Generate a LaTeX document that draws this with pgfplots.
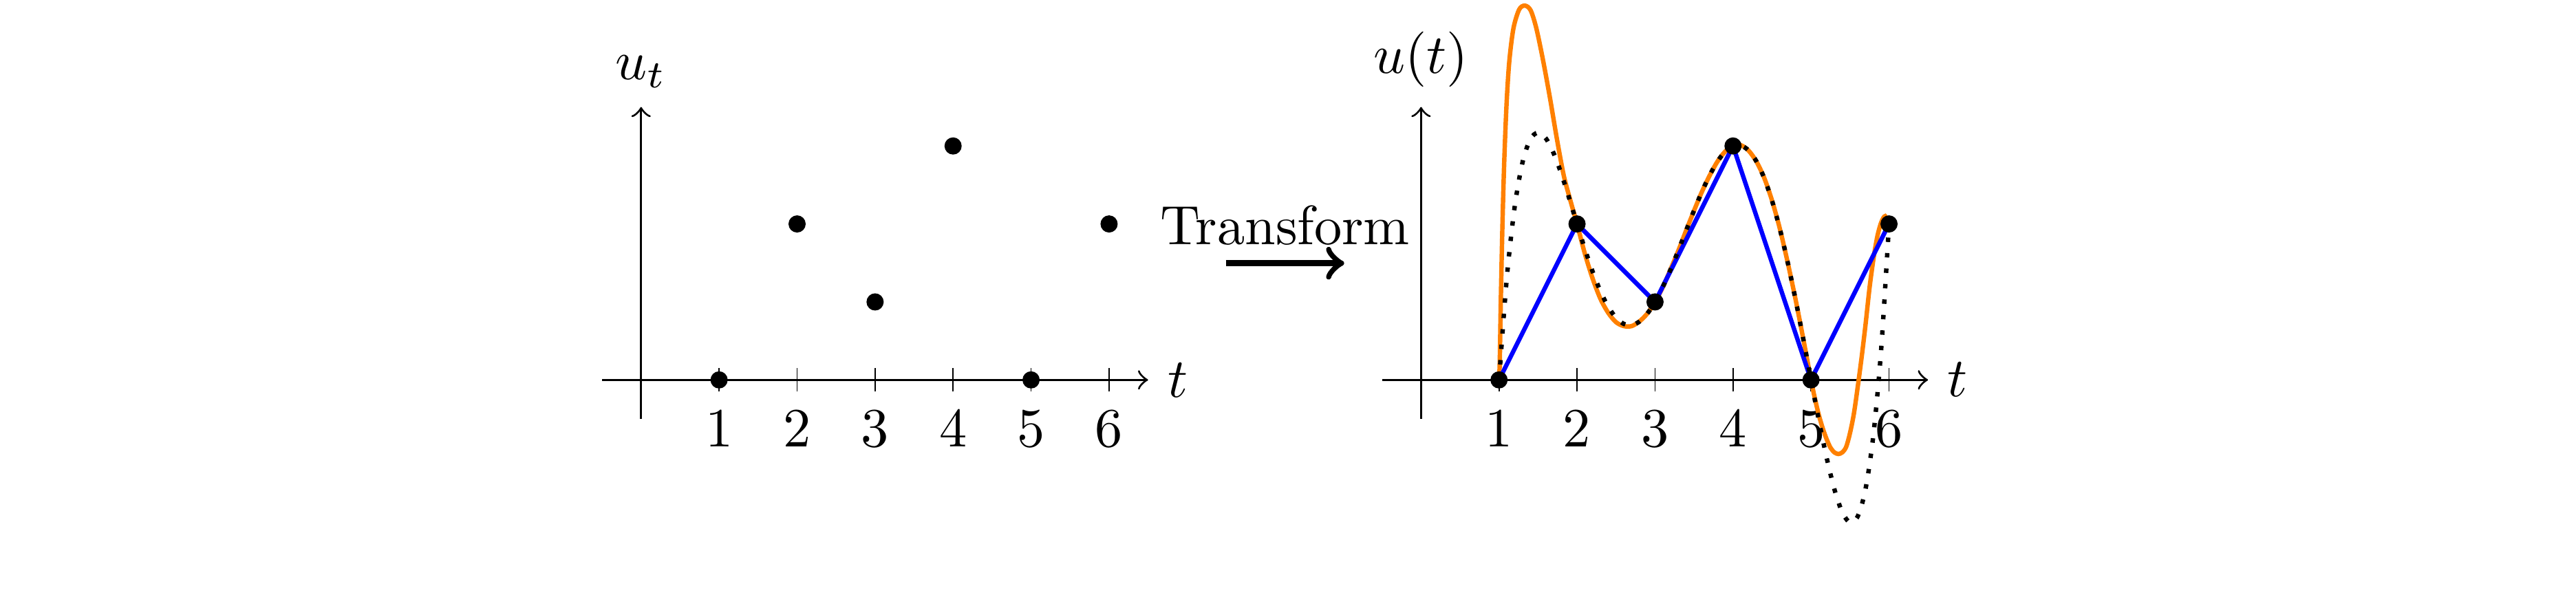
\documentclass[border=0pt]{standalone}
\usepackage{pgfplots}
\pgfplotsset{compat=1.18}
\usepackage{pgfplotstable}

% the six samples u_t
\pgfplotstableread{
t u
1 0
2 2
3 1
4 3
5 0
6 2
}\samples

% smooth reconstruction (orange)
\pgfplotstableread{
t u
1 0
1.009 0.22
1.023 1.03
1.044 2.0
1.067 2.81
1.097 3.55
1.132 4.09
1.185 4.51
1.258 4.75
1.331 4.80
1.405 4.74
1.478 4.51
1.566 4.09
1.654 3.61
1.742 3.09
1.83 2.62
1.915 2.3
2 2
2.1 1.62
2.2 1.30
2.3 1.04
2.4 0.86
2.5 0.74
2.6 0.69
2.7 0.69
2.8 0.75
2.9 0.85
3 1
3.1 1.19
3.2 1.42
3.3 1.66
3.4 1.92
3.5 2.17
3.6 2.41
3.7 2.62
3.8 2.80
3.9 2.93
4 3
4.1 3.01
4.2 2.94
4.3 2.80
4.4 2.59
4.5 2.30
4.6 1.94
4.7 1.51
4.8 1.04
4.9 0.53
5 0
5.05 -0.24
5.1 -0.45
5.15 -0.62
5.2 -0.76
5.25 -0.87
5.3 -0.93
5.35 -0.95
5.4 -0.93
5.45 -0.86
5.5 -0.68
5.55 -0.43
5.6 -0.08
5.65 0.30
5.7 0.72
5.75 1.18
5.8 1.55
5.85 1.84
5.9 2.02
5.95 2.10
6 2
}\orangecurve

% polynomial through the samples (dotted)
\pgfplotstableread{
t u
1 0
1.1 1.311
1.2 2.216
1.3 2.785
1.4 3.085
1.5 3.172
1.6 3.098
1.7 2.907
1.8 2.639
1.9 2.327
2 2
2.1 1.681
2.2 1.388
2.3 1.137
2.4 0.938
2.5 0.797
2.6 0.718
2.7 0.703
2.8 0.748
2.9 0.849
3 1
3.1 1.193
3.2 1.417
3.3 1.663
3.4 1.919
3.5 2.172
3.6 2.411
3.7 2.624
3.8 2.800
3.9 2.929
4 3
4.1 3.006
4.2 2.942
4.3 2.803
4.4 2.587
4.5 2.297
4.6 1.936
4.7 1.512
4.8 1.037
4.9 0.527
5 0
5.1 -0.518
5.2 -0.997
5.3 -1.404
5.4 -1.696
5.5 -1.828
5.6 -1.747
5.7 -1.394
5.8 -0.702
5.9 0.402
6 2
}\polycurve

\pgfplotsset{
  seq/.style={
    axis lines=middle,
    x=14.1pt, y=14.1pt,
    xmin=-0.5, xmax=6.5, ymin=-0.5, ymax=3.5,
    xtick={1,...,6}, ytick=\empty,
    tick style={black},
    x axis line style={-to},
    y axis line style={-to},
    xlabel={$t$},
    xlabel style={at={(current axis.right of origin)}, anchor=west},
    ylabel style={at={(current axis.above origin)}, anchor=south},
    clip=false,
    anchor=origin,
  },
}

\begin{document}
\begin{tikzpicture}
\path[use as bounding box] (-115.9pt,-40.8pt) rectangle (349.8pt,68.7pt);

\begin{axis}[seq, at={(0pt,0pt)}, ylabel={$u_t$}]
\addplot[only marks, mark=*, mark size=1.35pt, black] table {\samples};
\end{axis}

\node at (116.4pt,28.0pt) {Transform};
\draw[-to, line width=1.15pt] (105.7pt,21.1pt) -- (127.1pt,21.1pt);

\begin{axis}[seq, at={(141pt,0pt)}, ylabel={$u(t)$}]
\addplot[only marks, mark=*, mark size=1.35pt, black] table {\samples};
\addplot[orange, thick, smooth] table {\orangecurve};
\addplot[blue, thick] table {\samples};
\addplot[black, thick, dotted, smooth] table {\polycurve};
\end{axis}
\end{tikzpicture}
\end{document}
